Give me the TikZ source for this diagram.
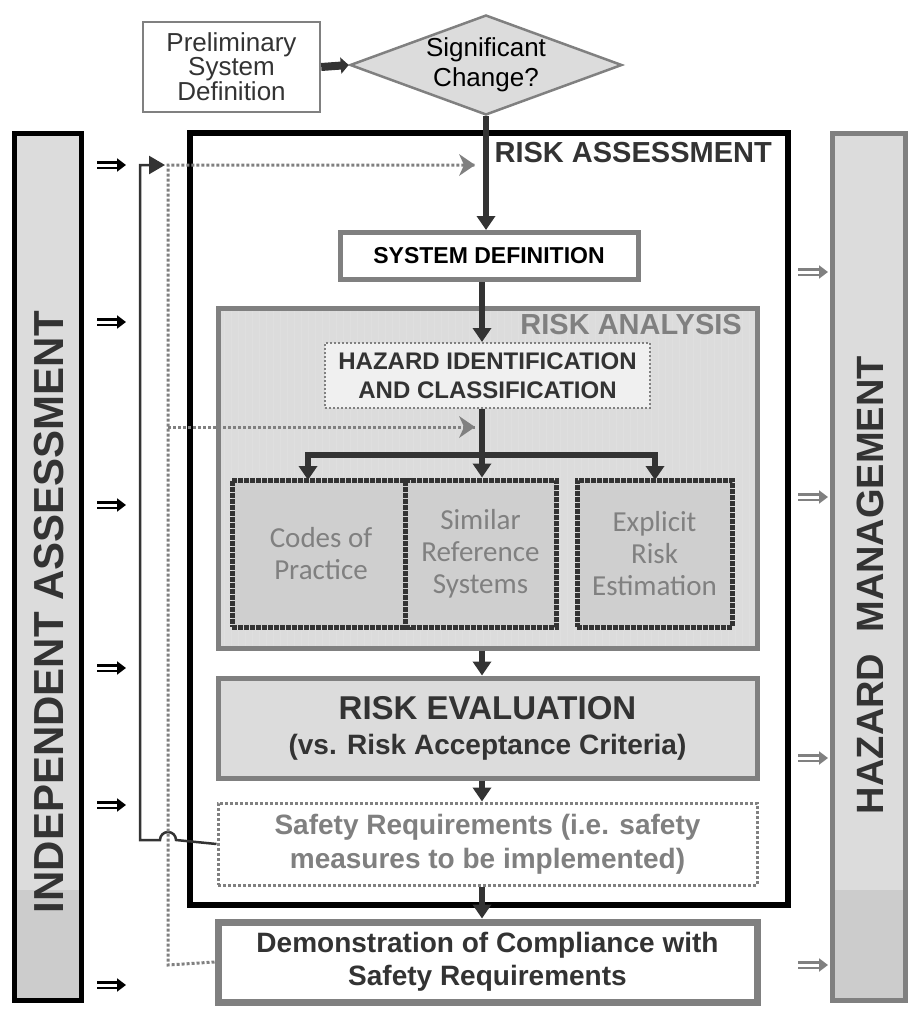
\documentclass[tikz,border=0pt]{standalone}
\usepackage{fontspec}
\setmainfont{Liberation Sans}
\newfontfamily\nar{Liberation Sans}
\newfontfamily\carl{Carlito}
\usetikzlibrary{shapes.geometric,arrows.meta}
\definecolor{dk}{HTML}{333333}
\definecolor{md}{HTML}{808080}
\definecolor{lg}{HTML}{DCDCDC}
\tikzset{
 box/.style={draw=md,line width=5pt,inner sep=0pt,align=center},
 flow/.style={draw=dk,line width=6pt,-{Triangle[length=14pt,width=18pt]}},
 side/.style={double=white,double distance=3pt,line width=2.2pt,-{Triangle[length=9pt,width=13pt]}},
}
\begin{document}
\begin{tikzpicture}[x=1pt,y=-1pt]
\useasboundingbox (0,0) rectangle (916,1020);
% side bars
\fill[lg] (14,133) rectangle (81,890);
\fill[gray!40] (14,890) rectangle (81,1000);
\draw[black,line width=5pt] (14,133) rectangle (81,1000);
\node[font=\fontsize{42}{46}\selectfont\bfseries,text=dk,rotate=90] (ia) at (49,612) {INDEPENDENT ASSESSMENT};
\fill[lg] (832,133) rectangle (905,890);
\fill[gray!40] (832,890) rectangle (905,1000);
\draw[md,line width=5pt] (832,133) rectangle (905,1000);
\node[font=\fontsize{38}{42}\selectfont\bfseries,text=dk,rotate=90] (hm) at (870,585) {HAZARD\ \ MANAGEMENT};
% side arrows
\foreach \y in {165,322,505,668,805,985} \draw[side,draw=black] (97,\y) -- (126,\y);
\foreach \y in {272,497,758,965} \draw[side,draw=md] (798,\y) -- (828,\y);
% top
\node[draw=md,line width=2.5pt,minimum width=177pt,minimum height=90pt,inner sep=0pt,align=center,text=dk,font=\nar\fontsize{26}{24}\selectfont] (pre) at (231.5,67) {Preliminary\\System\\Definition};
\node[diamond,draw=md,line width=2.5pt,fill=lg,minimum width=272pt,minimum height=100pt,aspect=2.72,inner sep=0pt,align=center,text=black,font=\nar\fontsize{26}{30}\selectfont] (dm) at (486,65) {Significant\\Change?};
\draw[draw=dk,line width=8pt,-{Triangle[length=8pt,width=16pt]}] (pre.east) -- (dm.west);
% risk assessment
\node[draw=black,line width=6pt,minimum width=598pt,minimum height=772pt] (ra) at (489,519) {};
\node[anchor=north east,font=\nar\bfseries\fontsize{29}{32}\selectfont,text=dk,inner sep=0pt] (rat) at (772,142) {RISK ASSESSMENT};
\node[box,fill=white,minimum width=298pt,minimum height=47pt,font=\nar\bfseries\fontsize{23}{26}\selectfont] (sd) at (489,256) {SYSTEM DEFINITION};
% risk analysis
\fill[lg] (218,308) rectangle (757,648);
\draw[white!75!gray,line width=0.4pt,step=7] (218,308) grid (757,648);
\node[box,minimum width=539pt,minimum height=340pt] (ran) at (487.5,478) {};
\node[anchor=north east,font=\nar\bfseries\fontsize{29}{32}\selectfont,text=md,inner sep=0pt] (rant) at (742,314) {RISK ANALYSIS};
\node[draw=md,dotted,line width=2pt,fill=gray!12,minimum width=325pt,minimum height=65pt,inner sep=0pt,align=center,text=dk,font=\nar\bfseries\fontsize{24}{29}\selectfont] (hz) at (487.5,375.5) {HAZARD IDENTIFICATION\\AND CLASSIFICATION};
\tikzset{cb/.style={draw=dk,densely dotted,line width=5pt,fill=gray!38,minimum height=147pt,inner sep=0pt,align=center,text=md,font=\carl\fontsize{29}{32}\selectfont}}
\node[cb,minimum width=178pt] (c1) at (321,553.5) {Codes of\\Practice};
\node[cb,minimum width=151pt] (c2) at (480.5,553.5) {Similar\\Reference\\Systems};
\node[cb,minimum width=155pt] (c3) at (654.5,553.5) {Explicit\\Risk\\Estimation};
% lower boxes
\node[box,fill=lg,minimum width=539pt,minimum height=100pt,text=dk,font=\nar\bfseries\fontsize{33}{35}\selectfont] (re) at (487.5,728) {RISK EVALUATION\\{\fontsize{28}{32}\selectfont (vs. Risk Acceptance Criteria)}};
\node[draw=md,dotted,line width=3pt,fill=white,minimum width=539pt,minimum height=82pt,inner sep=0pt,align=center,text=md,font=\nar\bfseries\fontsize{28}{34}\selectfont] (sr) at (487.5,844) {Safety Requirements (i.e. safety\\measures to be implemented)};
\node[box,line width=7pt,fill=white,minimum width=539pt,minimum height=80pt,text=dk,font=\nar\bfseries\fontsize{28}{33}\selectfont] (dc) at (487.5,962) {Demonstration of Compliance with\\Safety Requirements};
% main flow
\coordinate (mx) at (482,0);
\draw[flow] (dm.south) -- (dm.south |- sd.north);
\draw[flow] (mx |- sd.south) -- (mx |- hz.north);
\coordinate (br) at (482,455);
\draw[draw=dk,line width=6pt] (mx |- hz.south) -- (br);
\draw[draw=dk,line width=6pt] (305,455) -- (658,455);
\draw[flow] (br) -- (mx |- c2.north);
\draw[flow] (308,452) -- (308,480);
\draw[flow] (655,452) -- (655,480);
\draw[flow] (mx |- ran.south) -- (mx |- re.north);
\draw[flow] (mx |- re.south) -- (mx |- sr.north);
\draw[flow] (mx |- sr.south) -- (mx |- dc.north);
% feedback
\coordinate (fa) at (165,165);
\draw[dk,line width=2.5pt,-{Triangle[length=16pt,width=18pt]}] (sr.west) -- (176,840) arc(0:-180:8) -- (140,840) -- (140,165) -- (fa);
\coordinate (fb) at (475,165);
\coordinate (fc) at (475,427);
\draw[md,line width=3pt,dotted] (dc.west) -- (168,965) -- (168,165) -- (fb);
\draw[md,line width=3pt,dotted] (168,427) -- (fc);
\fill[md] (fb) -- ++(-16,-11) -- ++(5,11) -- ++(-5,11) -- cycle;
\fill[md] (fc) -- ++(-16,-11) -- ++(5,11) -- ++(-5,11) -- cycle;
\end{tikzpicture}
\end{document}
